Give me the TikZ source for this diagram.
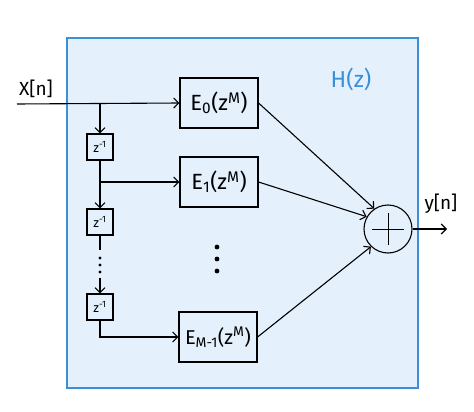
\documentclass[tikz,border=0pt]{standalone}
\usepackage{fontspec}
\setmainfont{Fira Sans}
\usetikzlibrary{arrows.meta}
\definecolor{panelfill}{HTML}{E4F0FC}
\definecolor{panelline}{HTML}{3A8FD9}
\begin{document}
\begin{tikzpicture}[x=1pt,y=-1pt,
  line width=1.1pt,
  arr/.style={-{Straight Barb[length=5pt,width=10pt,line width=1.1pt]}},
  filt/.style={draw, minimum width=78pt, minimum height=50pt, inner sep=0pt, font=\fontsize{22}{24}\selectfont},
  dly/.style={draw, minimum width=26pt, minimum height=26pt, inner sep=0pt, font=\fontsize{13}{15}\selectfont},
  lbl/.style={font=\fontsize{19}{21}\selectfont}]
\useasboundingbox (0,0) rectangle (474,412);
\fill[white] (0,0) rectangle (474,412);
\draw[panelline, fill=panelfill, line width=1.3pt] (67,38) rectangle (418,388);

\node[filt] (e0) at (219,103) {E\textsubscript{0}(z\textsuperscript{M})};
\node[filt] (e1) at (219,182) {E\textsubscript{1}(z\textsuperscript{M})};
\node[filt, font=\fontsize{20}{22}\selectfont] (em) at (218,337) {E\textsubscript{M-1}(z\textsuperscript{M})};

\node[dly] (d1) at (100,147) {z\textsuperscript{-1}};
\node[dly] (d2) at (100,222) {z\textsuperscript{-1}};
\node[dly] (d3) at (100,307) {z\textsuperscript{-1}};

\node[draw, circle, minimum size=48pt, inner sep=0pt] (sum) at (388,229) {};
\draw[line width=0.7pt] ([xshift=-16pt]sum.center) -- ([xshift=16pt]sum.center)
  ([yshift=-16pt]sum.center) -- ([yshift=16pt]sum.center);

\coordinate (in) at (17,104);
\coordinate (br) at (100,104);
\coordinate (out) at (447,229);
\coordinate (dotend) at (100,250);
\coordinate (dotstart) at (100,278);

\node[lbl] (xl) at (36,89) {X[n]};
\node[lbl] (yl) at (441,204) {y[n]};
\node[lbl, text=panelline, font=\fontsize{23}{25}\selectfont] (hl) at (351,79) {H(z)};

\draw[arr] (in) -- (e0.west);
\draw[arr] (br) -- (d1.north);
\draw[arr] (d1.south) -- (d2.north);
\draw[arr] (d1.south |- e1.west) -- (e1.west);
\draw (d2.south) -- (dotend);
\draw[arr] (dotstart) -- (d3.north);
\draw[arr] (d3.south) |- (em.west);
\foreach \yy in {258,265,272} \fill (100,\yy) circle (1.7pt);
\foreach \yy in {247,259,271} \fill (217,\yy) circle (2.4pt);

\draw[arr] (e0.east) -- (sum.124);
\draw[arr] (e1.east) -- (sum.150);
\draw[arr] (em.east) -- (sum.226);
\draw[arr] (sum.east) -- (out);
\end{tikzpicture}
\end{document}
